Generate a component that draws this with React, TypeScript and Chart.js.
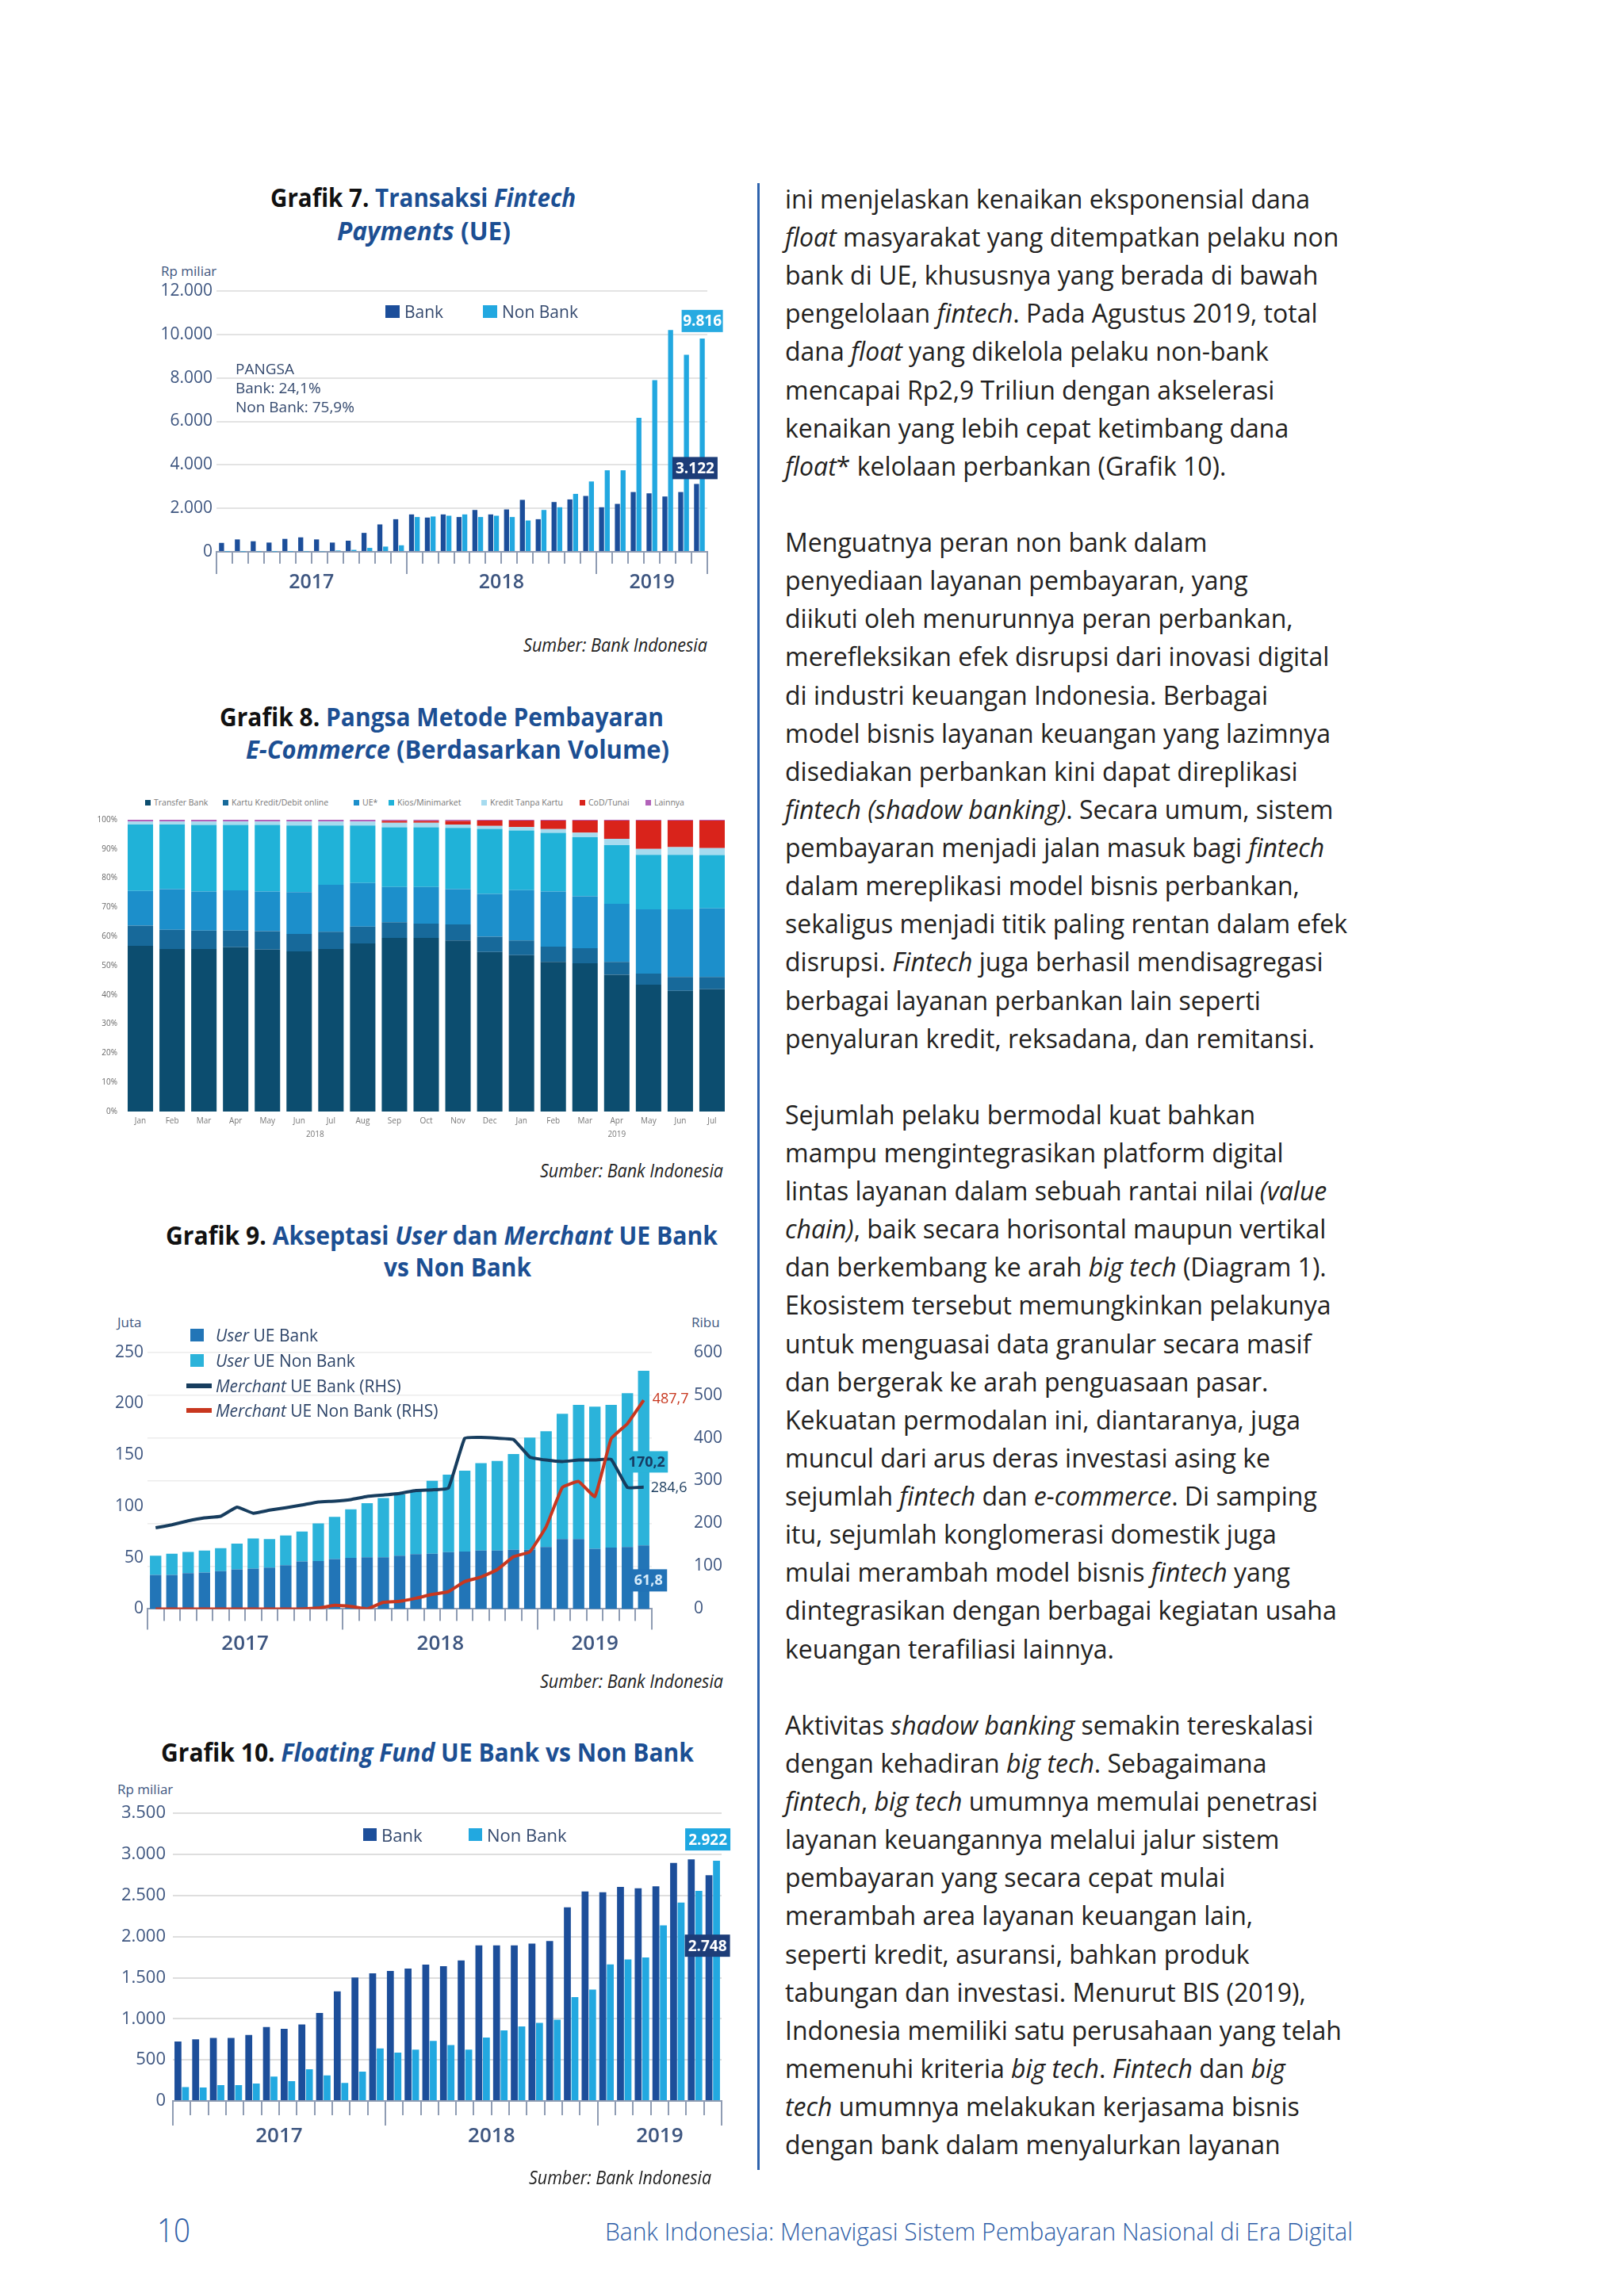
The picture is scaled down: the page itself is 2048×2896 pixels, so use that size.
import React, { useEffect, useLayoutEffect, useRef } from 'react';
import { Chart, registerables } from 'chart.js';

Chart.register(...registerables);

// ================= DATA =================
const months31 = ['Jan 2017','Feb 2017','Mar 2017','Apr 2017','May 2017','Jun 2017','Jul 2017','Aug 2017','Sep 2017','Oct 2017','Nov 2017','Dec 2017','Jan 2018','Feb 2018','Mar 2018','Apr 2018','May 2018','Jun 2018','Jul 2018','Aug 2018','Sep 2018','Oct 2018','Nov 2018','Dec 2018','Jan 2019','Feb 2019','Mar 2019','Apr 2019','May 2019','Jun 2019','Jul 2019'];
const years171819 = ['2017', '2018', '2019'];
const monthsPerYear171819 = [12, 12, 7];

// Grafik 7 – Transaksi Fintech Payments (Rp miliar)
const g7Bank = [410, 570, 485, 425, 595, 665, 570, 425, 510, 870, 1260, 1500, 1720, 1575, 1720, 1600, 1925, 1720, 1950, 2390, 1500, 2290, 2410, 2570, 2050, 2205, 2750, 2690, 2545, 2750, 3122];
const g7NonBank = [15, 15, 20, 15, 15, 20, 25, 60, 90, 180, 240, 300, 1600, 1625, 1660, 1720, 1600, 1660, 1600, 1440, 1925, 2050, 2665, 3235, 3750, 3750, 6160, 7900, 10200, 9060, 9816];
const g7Share = ['PANGSA', 'Bank: 24,1%', 'Non Bank: 75,9%'];

// Grafik 8 – Pangsa Metode Pembayaran E-Commerce (%)
const g8Months = ['Jan','Feb','Mar','Apr','May','Jun','Jul','Aug','Sep','Oct','Nov','Dec','Jan','Feb','Mar','Apr','May','Jun','Jul'];
const g8Years = ['2018', '2019'];
const g8MonthsPerYear = [12, 7];
const g8Series = ['Transfer Bank', 'Kartu Kredit/Debit online', 'UE*', 'Kios/Minimarket', 'Kredit Tanpa Kartu', 'CoD/Tunai', 'Lainnya'];
const g8TransferBank = [56.8, 55.7, 55.7, 56.3, 55.5, 54.9, 55.7, 57.6, 59.5, 59.5, 58.6, 54.7, 53.6, 51.3, 50.8, 46.9, 43.5, 41.4, 41.9];
const g8Kartu = [6.9, 6.6, 6.3, 5.7, 6.3, 6.0, 5.9, 5.8, 5.4, 4.9, 5.5, 5.2, 5.0, 5.2, 5.2, 4.4, 3.8, 4.7, 4.2];
const g8UE = [11.9, 13.9, 13.4, 13.8, 13.6, 14.3, 16.1, 14.9, 12.1, 12.6, 12.1, 14.7, 17.3, 18.9, 17.8, 19.9, 22.0, 23.2, 23.5];
const g8Kios = [22.8, 22.2, 22.8, 22.4, 22.8, 22.8, 20.3, 19.7, 20.4, 20.4, 21.0, 22.3, 20.4, 20.1, 20.2, 20.1, 18.7, 18.7, 18.3];
const g8KTK = [1.0, 1.0, 1.2, 1.2, 1.2, 1.4, 1.4, 1.4, 1.6, 1.6, 1.2, 1.0, 1.2, 1.3, 1.6, 2.2, 2.0, 2.6, 2.4];
const g8CoD = [0, 0, 0, 0, 0, 0, 0, 0, 0.6, 0.6, 1.2, 1.8, 2.2, 2.9, 4.1, 6.2, 9.7, 9.1, 9.4];
const g8Lainnya = [0.6, 0.6, 0.6, 0.6, 0.6, 0.6, 0.6, 0.6, 0.4, 0.4, 0.4, 0.3, 0.3, 0.3, 0.3, 0.3, 0.3, 0.3, 0.3];

// Grafik 9 – Akseptasi User (juta) dan Merchant (ribu)
const g9UserBank = [33.1, 33.1, 34.9, 35.5, 36.7, 38.5, 39.3, 40.2, 42.6, 46.2, 46.7, 48.5, 49.7, 50.3, 50.3, 51.8, 53.3, 53.8, 55.3, 55.9, 56.8, 56.8, 57.7, 57.7, 60.4, 68.0, 68.0, 58.6, 59.8, 60.4, 61.8];
const g9UserNonBank = [18.7, 20.7, 20.7, 21.3, 22.5, 25.1, 29.3, 27.8, 29.0, 29.2, 36.7, 41.1, 47.3, 52.7, 57.7, 59.7, 62.1, 71.1, 75.5, 78.7, 85.2, 87.3, 93.2, 109.2, 112.7, 122.0, 130.8, 138.4, 139.0, 149.7, 170.2];
const g9MerchantBank = [189.6, 196.7, 206, 213, 216.6, 238, 223.7, 230.8, 236.5, 242.9, 250, 252, 255.7, 262.8, 266.3, 270, 277, 278.4, 282.7, 399, 401, 399, 396, 355, 348, 344.5, 348, 348, 349.4, 284, 284.6];
const g9MerchantNonBank = [0, 0, 0, 0, 0, 0, 0, 0, 0, 0, 2, 8.5, 5.7, 0, 15.6, 17.8, 25, 34, 40.5, 64, 74.6, 92, 122, 133.5, 191.8, 284, 298, 262.8, 397.7, 433, 487.7];

// Grafik 10 – Floating Fund (Rp miliar)
const g10Bank = [723, 749, 767, 767, 804, 899, 877, 932, 1071, 1334, 1502, 1553, 1582, 1611, 1659, 1640, 1710, 1893, 1893, 1893, 1915, 1947, 2357, 2550, 2539, 2605, 2587, 2612, 2897, 2941, 2748];
const g10NonBank = [168, 164, 194, 194, 212, 296, 241, 387, 311, 219, 358, 640, 588, 625, 731, 680, 625, 771, 859, 906, 950, 990, 1264, 1355, 1662, 1721, 1746, 2137, 2415, 2557, 2922];

// ================= STYLE =================
const FONT = '"Open Sans", "Noto Sans", "DejaVu Sans", sans-serif';
const BLUE = '#1c4f93';
const TICK = '#3e5680';
const AXIS = '#8f9cb3';
const C_BANK = '#1c4e9a';
const C_NONBANK = '#22a8e0';
const C8 = ['#0c4d6f', '#17699a', '#1c8fcb', '#20b2d8', '#a6dbef', '#d9231b', '#b262b9'];
const C9_BANK = '#2275b7';
const C9_NONBANK = '#2bb3da';
const C9_NAVY = '#173d5e';
const C9_RED = '#c8371f';

const fmtK = (v: number) => Math.round(v).toString().replace(/\B(?=(\d{3})+(?!\d))/g, '.');
const fmtD = (v: number) => v.toFixed(1).replace('.', ',');

// ================= HELPERS =================
function makeBoxPlugin(items: any[]) {
  return {
    id: 'boxLabels',
    afterDatasetsDraw(chart: any) {
      const ctx = chart.ctx;
      items.forEach((b) => {
        const el = chart.getDatasetMeta(b.ds).data[b.idx];
        if (!el) return;
        const cx = el.x + b.dx;
        const cy = el.y + b.dy;
        ctx.save();
        if (b.bg) {
          ctx.fillStyle = b.bg;
          ctx.fillRect(cx - b.w / 2, cy - b.h / 2, b.w, b.h);
        }
        ctx.font = b.font;
        ctx.fillStyle = b.color;
        ctx.textBaseline = 'middle';
        ctx.textAlign = b.align || 'center';
        ctx.fillText(b.text, cx, cy + 1);
        ctx.restore();
      });
    },
  };
}

function monthAxis(o: any) {
  return {
    type: 'category',
    position: 'bottom',
    weight: 0,
    offset: true,
    ticks: o.labels
      ? { display: true, autoSkip: false, maxRotation: 0, minRotation: 0, padding: o.pad, color: o.color, font: o.font }
      : { display: false },
    grid: o.tick > 0
      ? { display: true, offset: true, drawOnChartArea: false, drawTicks: true, tickLength: o.tick, lineWidth: 2, color: AXIS }
      : { display: false, drawTicks: false, tickLength: 0 },
    border: { display: !!o.border, color: AXIS, width: 2 },
    afterFit: (s: any) => { s.height = o.h; },
  };
}

function yearAxis(years: string[], counts: number[], o: any) {
  const bounds = [0];
  counts.forEach((c) => bounds.push(bounds[bounds.length - 1] + c));
  const centers = counts.map((c, i) => bounds[i] + c / 2);
  const total = bounds[bounds.length - 1];
  return {
    type: 'linear',
    position: 'bottom',
    weight: 1,
    offset: false,
    min: 0,
    max: total,
    bounds: 'data',
    afterBuildTicks: (s: any) => {
      const vals = o.tick > 0 ? [...bounds, ...centers] : [...centers];
      s.ticks = vals.sort((a, b) => a - b).map((v) => ({ value: v }));
    },
    ticks: {
      autoSkip: false, maxRotation: 0, minRotation: 0, padding: o.pad, color: o.color, font: o.font,
      callback: (v: number) => { const i = centers.indexOf(v); return i >= 0 ? years[i] : ''; },
    },
    grid: o.tick > 0
      ? { display: true, offset: false, drawOnChartArea: false, drawTicks: true, tickLength: o.tick, lineWidth: 2,
          color: (c: any) => (c.tick && bounds.includes(c.tick.value) ? AXIS : 'rgba(0,0,0,0)') }
      : { display: false, offset: false, drawTicks: false, tickLength: 0 },
    border: { display: false },
    afterFit: (s: any) => { s.height = o.h; },
  };
}

function ChartCanvas({ x, y, w, h, make }: { x: number; y: number; w: number; h: number; make: () => any }) {
  const ref = useRef<HTMLCanvasElement>(null);
  useEffect(() => {
    const c = new Chart(ref.current as HTMLCanvasElement, make());
    return () => c.destroy();
  }, []);
  return <canvas ref={ref} width={w} height={h} style={{ position: 'absolute', left: x, top: y, width: w, height: h }} />;
}

function T({ x, y, size, color = '#222', weight = 400, italic = false, w, family = FONT, children }: any) {
  const ref = useRef<HTMLDivElement>(null);
  useLayoutEffect(() => {
    if (!w) return;
    const el = ref.current as HTMLDivElement;
    const fit = () => {
      el.style.transform = 'none';
      const nw = el.getBoundingClientRect().width;
      if (nw > 0) el.style.transform = `scaleX(${w / nw})`;
    };
    fit();
    const f: any = (document as any).fonts;
    if (f && f.ready) f.ready.then(fit);
  }, [w]);
  const lh = Math.round(size * 1.3);
  return (
    <div
      ref={ref}
      style={{
        position: 'absolute', left: x, top: y - lh / 2, fontSize: size, lineHeight: lh + 'px', color,
        fontWeight: weight, fontStyle: italic ? 'italic' : 'normal', fontFamily: family,
        whiteSpace: 'nowrap', transformOrigin: '0 50%',
      }}
    >
      {children}
    </div>
  );
}

function Sq({ x, y, w, h, color }: any) {
  return <div style={{ position: 'absolute', left: x, top: y - h / 2, width: w, height: h, background: color }} />;
}

// ================= CHART CONFIGS =================
const tickFont = (size: number, weight: any = 400) => ({ family: FONT, size, weight });

const make7 = () => ({
  type: 'bar',
  data: {
    labels: months31,
    datasets: [
      { label: 'Bank', data: g7Bank, backgroundColor: C_BANK, xAxisID: 'x', yAxisID: 'y', categoryPercentage: 0.72, barPercentage: 0.88 },
      { label: 'Non Bank', data: g7NonBank, backgroundColor: C_NONBANK, xAxisID: 'x', yAxisID: 'y', categoryPercentage: 0.72, barPercentage: 0.88 },
    ],
  },
  options: {
    responsive: false, animation: false, devicePixelRatio: 1, events: [],
    layout: { padding: { top: 37, right: 23, left: 0, bottom: 0 } },
    plugins: { legend: { display: false }, tooltip: { enabled: false } },
    scales: {
      x: monthAxis({ tick: 15, h: 15, border: true }),
      year: yearAxis(years171819, monthsPerYear171819, { tick: 13, h: 59, pad: -4, color: TICK, font: tickFont(25, 600) }),
      y: {
        min: 0, max: 12000,
        border: { display: false },
        grid: { drawTicks: false, lineWidth: 2, color: (c: any) => (c.tick && c.tick.value === 0 ? 'rgba(0,0,0,0)' : '#e3e3e3') },
        ticks: { stepSize: 2000, padding: 5, color: TICK, font: tickFont(21), callback: (v: number) => fmtK(v) },
        afterFit: (s: any) => { s.width = 88; },
      },
    },
  },
  plugins: [
    makeBoxPlugin([
      { ds: 1, idx: 30, dx: 0, dy: -22, w: 52, h: 28, bg: '#27aae1', color: '#ffffff', font: `700 19px ${FONT}`, text: fmtK(g7NonBank[30]) },
      { ds: 0, idx: 30, dx: -2, dy: -20, w: 57, h: 28, bg: '#1d3d78', color: '#ffffff', font: `700 19px ${FONT}`, text: fmtK(g7Bank[30]) },
    ]),
  ],
});

const g8Data = [g8TransferBank, g8Kartu, g8UE, g8Kios, g8KTK, g8CoD, g8Lainnya];
const make8 = () => ({
  type: 'bar',
  data: {
    labels: g8Months,
    datasets: g8Series.map((name, i) => ({
      label: name, data: g8Data[i], backgroundColor: C8[i], xAxisID: 'x', yAxisID: 'y', stack: 's',
      barPercentage: 0.8, categoryPercentage: 1,
    })),
  },
  options: {
    responsive: false, animation: false, devicePixelRatio: 1, events: [],
    layout: { padding: { top: 24, right: 12, left: 0, bottom: 0 } },
    plugins: { legend: { display: false }, tooltip: { enabled: false } },
    scales: {
      x: { ...monthAxis({ tick: 0, h: 20, labels: true, pad: 6, color: '#777', font: tickFont(10) }), stacked: true },
      year: yearAxis(g8Years, g8MonthsPerYear, { tick: 0, h: 22, pad: 3, color: '#777', font: tickFont(10) }),
      y: {
        stacked: true, min: 0, max: 100,
        border: { display: false },
        grid: { display: false, drawTicks: false },
        ticks: { stepSize: 10, padding: 9, color: '#666', font: tickFont(10), callback: (v: number) => v + '%' },
        afterFit: (s: any) => { s.width = 52; },
      },
    },
  },
});

const make9 = () => ({
  type: 'bar',
  data: {
    labels: months31,
    datasets: [
      { type: 'line', label: 'Merchant UE Non Bank (RHS)', data: g9MerchantNonBank, borderColor: C9_RED, backgroundColor: C9_RED, borderWidth: 4, pointRadius: 0, tension: 0.1, xAxisID: 'x', yAxisID: 'yR', order: 0 },
      { type: 'line', label: 'Merchant UE Bank (RHS)', data: g9MerchantBank, borderColor: C9_NAVY, backgroundColor: C9_NAVY, borderWidth: 4, pointRadius: 0, tension: 0.1, xAxisID: 'x', yAxisID: 'yR', order: 1 },
      { type: 'bar', label: 'User UE Bank', data: g9UserBank, backgroundColor: C9_BANK, xAxisID: 'x', yAxisID: 'y', stack: 'u', order: 2, barPercentage: 0.7, categoryPercentage: 1 },
      { type: 'bar', label: 'User UE Non Bank', data: g9UserNonBank, backgroundColor: C9_NONBANK, xAxisID: 'x', yAxisID: 'y', stack: 'u', order: 2, barPercentage: 0.7, categoryPercentage: 1 },
    ],
  },
  options: {
    responsive: false, animation: false, devicePixelRatio: 1, events: [],
    layout: { padding: { top: 55, right: 8, left: 0, bottom: 0 } },
    plugins: { legend: { display: false }, tooltip: { enabled: false } },
    scales: {
      x: monthAxis({ tick: 15, h: 15, border: true }),
      year: yearAxis(years171819, monthsPerYear171819, { tick: 11, h: 45, pad: 3, color: TICK, font: tickFont(26, 600) }),
      y: {
        stacked: true, min: 0, max: 250, position: 'left',
        border: { display: false },
        grid: { display: false, drawTicks: false },
        ticks: { stepSize: 50, padding: 5, color: TICK, font: tickFont(21) },
        afterFit: (s: any) => { s.width = 56; },
      },
      yR: {
        min: 0, max: 600, position: 'right',
        border: { display: false },
        grid: { drawTicks: false, lineWidth: 1.5, color: (c: any) => (c.tick && c.tick.value === 0 ? 'rgba(0,0,0,0)' : '#ececec') },
        ticks: { stepSize: 100, padding: 53, color: TICK, font: tickFont(21) },
        afterFit: (s: any) => { s.width = 100; },
      },
    },
  },
  plugins: [
    makeBoxPlugin([
      { ds: 0, idx: 30, dx: 11, dy: -2, align: 'left', color: C9_RED, font: `400 18px ${FONT}`, text: fmtD(g9MerchantNonBank[30]) },
      { ds: 1, idx: 30, dx: 9, dy: 0, align: 'left', color: '#1a3c5e', font: `400 18px ${FONT}`, text: fmtD(g9MerchantBank[30]) },
      { ds: 3, idx: 30, dx: 4, dy: 115, w: 53, h: 27, bg: '#2bb4d9', color: '#173c63', font: `700 18px ${FONT}`, text: fmtD(g9UserNonBank[30]) },
      { ds: 2, idx: 30, dx: 6, dy: 44, w: 47, h: 28, bg: '#2172b6', color: '#d7ecfa', font: `700 18px ${FONT}`, text: fmtD(g9UserBank[30]) },
    ]),
  ],
});

const make10 = () => ({
  type: 'bar',
  data: {
    labels: months31,
    datasets: [
      { label: 'Bank', data: g10Bank, backgroundColor: C_BANK, xAxisID: 'x', yAxisID: 'y', categoryPercentage: 0.85, barPercentage: 0.92 },
      { label: 'Non Bank', data: g10NonBank, backgroundColor: C_NONBANK, xAxisID: 'x', yAxisID: 'y', categoryPercentage: 0.85, barPercentage: 0.92 },
    ],
  },
  options: {
    responsive: false, animation: false, devicePixelRatio: 1, events: [],
    layout: { padding: { top: 21, right: 20, left: 0, bottom: 0 } },
    plugins: { legend: { display: false }, tooltip: { enabled: false } },
    scales: {
      x: monthAxis({ tick: 18, h: 18, border: true }),
      year: yearAxis(years171819, monthsPerYear171819, { tick: 13, h: 67, pad: -2, color: TICK, font: tickFont(26, 600) }),
      y: {
        min: 0, max: 3500,
        border: { display: false },
        grid: { drawTicks: false, lineWidth: 2, color: (c: any) => (c.tick && c.tick.value === 0 ? 'rgba(0,0,0,0)' : '#dedede') },
        ticks: { stepSize: 500, padding: 9, color: TICK, font: tickFont(22), callback: (v: number) => fmtK(v) },
        afterFit: (s: any) => { s.width = 88; },
      },
    },
  },
  plugins: [
    makeBoxPlugin([
      { ds: 1, idx: 30, dx: -11, dy: -27, w: 57, h: 28, bg: '#1ea7e1', color: '#ffffff', font: `700 19px ${FONT}`, text: fmtK(g10NonBank[30]) },
      { ds: 0, idx: 30, dx: -2, dy: 89, w: 57, h: 28, bg: '#1d3d78', color: '#ffffff', font: `700 19px ${FONT}`, text: fmtK(g10Bank[30]) },
    ]),
  ],
});

// ================= BODY TEXT =================
const bodyLines: any[] = [
  <>ini menjelaskan kenaikan eksponensial dana</>,
  <><i>float</i> masyarakat yang ditempatkan pelaku non</>,
  <>bank di UE, khususnya yang berada di bawah</>,
  <>pengelolaan <i>fintech</i>. Pada Agustus 2019, total</>,
  <>dana <i>float</i> yang dikelola pelaku non-bank</>,
  <>mencapai Rp2,9 Triliun dengan akselerasi</>,
  <>kenaikan yang lebih cepat ketimbang dana</>,
  <><i>float</i>* kelolaan perbankan (Grafik 10).</>,
  null,
  <>Menguatnya peran non bank dalam</>,
  <>penyediaan layanan pembayaran, yang</>,
  <>diikuti oleh menurunnya peran perbankan,</>,
  <>merefleksikan efek disrupsi dari inovasi digital</>,
  <>di industri keuangan Indonesia. Berbagai</>,
  <>model bisnis layanan keuangan yang lazimnya</>,
  <>disediakan perbankan kini dapat direplikasi</>,
  <><i>fintech (shadow banking)</i>. Secara umum, sistem</>,
  <>pembayaran menjadi jalan masuk bagi <i>fintech</i></>,
  <>dalam mereplikasi model bisnis perbankan,</>,
  <>sekaligus menjadi titik paling rentan dalam efek</>,
  <>disrupsi. <i>Fintech</i> juga berhasil mendisagregasi</>,
  <>berbagai layanan perbankan lain seperti</>,
  <>penyaluran kredit, reksadana, dan remitansi.</>,
  null,
  <>Sejumlah pelaku bermodal kuat bahkan</>,
  <>mampu mengintegrasikan platform digital</>,
  <>lintas layanan dalam sebuah rantai nilai <i>(value</i></>,
  <><i>chain)</i>, baik secara horisontal maupun vertikal</>,
  <>dan berkembang ke arah <i>big tech</i> (Diagram 1).</>,
  <>Ekosistem tersebut memungkinkan pelakunya</>,
  <>untuk menguasai data granular secara masif</>,
  <>dan bergerak ke arah penguasaan pasar.</>,
  <>Kekuatan permodalan ini, diantaranya, juga</>,
  <>muncul dari arus deras investasi asing ke</>,
  <>sejumlah <i>fintech</i> dan <i>e-commerce</i>. Di samping</>,
  <>itu, sejumlah konglomerasi domestik juga</>,
  <>mulai merambah model bisnis <i>fintech</i> yang</>,
  <>dintegrasikan dengan berbagai kegiatan usaha</>,
  <>keuangan terafiliasi lainnya.</>,
  null,
  <>Aktivitas <i>shadow banking</i> semakin tereskalasi</>,
  <>dengan kehadiran <i>big tech</i>. Sebagaimana</>,
  <><i>fintech</i>, <i>big tech</i> umumnya memulai penetrasi</>,
  <>layanan keuangannya melalui jalur sistem</>,
  <>pembayaran yang secara cepat mulai</>,
  <>merambah area layanan keuangan lain,</>,
  <>seperti kredit, asuransi, bahkan produk</>,
  <>tabungan dan investasi. Menurut BIS (2019),</>,
  <>Indonesia memiliki satu perusahaan yang telah</>,
  <>memenuhi kriteria <i>big tech</i>. <i>Fintech</i> dan <i>big</i></>,
  <><i>tech</i> umumnya melakukan kerjasama bisnis</>,
  <>dengan bank dalam menyalurkan layanan</>,
];

// ================= APP =================
export default function App() {
  const lab = { size: 21, color: '#34496e' };
  return (
    <div style={{ position: 'absolute', left: 0, top: 0, width: 2048, height: 2896, background: '#ffffff', overflow: 'hidden', fontFamily: FONT }}>
      {/* ---------- Grafik 7 ---------- */}
      <T x={341} y={248} size={33} weight={700} w={385}>
        <span style={{ color: '#111' }}>Grafik 7. </span>
        <span style={{ color: BLUE }}>Transaksi <i>Fintech</i></span>
      </T>
      <T x={425} y={290} size={33} weight={700} w={219} color={BLUE}>
        <i>Payments</i> (UE)
      </T>
      <T x={203} y={342} size={17} color={TICK}>Rp miliar</T>
      <ChartCanvas x={185} y={330} w={730} h={440} make={make7} />
      <Sq x={486} y={393} w={18} h={16} color={C_BANK} />
      <T x={510} y={393} size={lab.size} color={lab.color}>Bank</T>
      <Sq x={609} y={393} w={18} h={16} color={C_NONBANK} />
      <T x={633} y={393} size={lab.size} color={lab.color}>Non Bank</T>
      {g7Share.map((s, i) => (
        <T key={i} x={297} y={465 + i * 24} size={19} color={lab.color}>{s}</T>
      ))}
      <T x={660} y={813} size={23} italic w={232} color="#222">Sumber: Bank Indonesia</T>

      {/* ---------- Grafik 8 ---------- */}
      <T x={277} y={903} size={33} weight={700} w={560}>
        <span style={{ color: '#111' }}>Grafik 8. </span>
        <span style={{ color: BLUE }}>Pangsa Metode Pembayaran</span>
      </T>
      <T x={310} y={944} size={33} weight={700} w={534} color={BLUE}>
        <i>E-Commerce</i> (Berdasarkan Volume)
      </T>
      {g8Series.map((s, i) => {
        const xs = [183, 281, 446, 490, 607, 731, 814];
        return (
          <React.Fragment key={i}>
            <Sq x={xs[i]} y={1012} w={7} h={7} color={C8[i]} />
            <T x={xs[i] + 11} y={1012} size={10.5} color="#777">{s}</T>
          </React.Fragment>
        );
      })}
      <ChartCanvas x={105} y={1010} w={825} h={434} make={make8} />
      <T x={681} y={1476} size={23} italic w={231} color="#222">Sumber: Bank Indonesia</T>

      {/* ---------- Grafik 9 ---------- */}
      <T x={209} y={1557} size={33} weight={700} w={696}>
        <span style={{ color: '#111' }}>Grafik 9. </span>
        <span style={{ color: BLUE }}>Akseptasi <i>User</i> dan <i>Merchant</i> UE Bank</span>
      </T>
      <T x={484} y={1597} size={33} weight={700} w={186} color={BLUE}>vs Non Bank</T>
      <T x={148} y={1668} size={17} color={TICK}>Juta</T>
      <T x={872} y={1668} size={17} color={TICK}>Ribu</T>
      <ChartCanvas x={130} y={1640} w={800} h={455} make={make9} />
      <Sq x={240} y={1684} w={17} h={16} color={C9_BANK} />
      <T x={272} y={1684} size={21} color="#2d4468"><i>User</i> UE Bank</T>
      <Sq x={240} y={1716} w={17} h={16} color={C9_NONBANK} />
      <T x={272} y={1716} size={21} color="#2d4468"><i>User</i> UE Non Bank</T>
      <Sq x={235} y={1748} w={32} h={6} color={C9_NAVY} />
      <T x={272} y={1748} size={21} color="#2d4468"><i>Merchant</i> UE Bank (RHS)</T>
      <Sq x={235} y={1779} w={32} h={6} color={C9_RED} />
      <T x={272} y={1779} size={21} color="#2d4468"><i>Merchant</i> UE Non Bank (RHS)</T>
      <T x={681} y={2120} size={23} italic w={231} color="#222">Sumber: Bank Indonesia</T>

      {/* ---------- Grafik 10 ---------- */}
      <T x={203} y={2209} size={33} weight={700} w={672}>
        <span style={{ color: '#111' }}>Grafik 10. </span>
        <span style={{ color: BLUE }}><i>Floating Fund</i> UE Bank vs Non Bank</span>
      </T>
      <T x={148} y={2257} size={17} color={TICK}>Rp miliar</T>
      <ChartCanvas x={130} y={2265} w={800} h={470} make={make10} />
      <Sq x={458} y={2314} w={17} h={16} color={C_BANK} />
      <T x={481} y={2314} size={22} color={lab.color}>Bank</T>
      <Sq x={591} y={2314} w={17} h={16} color={C_NONBANK} />
      <T x={614} y={2314} size={22} color={lab.color}>Non Bank</T>
      <T x={667} y={2746} size={23} italic w={230} color="#222">Sumber: Bank Indonesia</T>

      {/* ---------- Divider ---------- */}
      <div style={{ position: 'absolute', left: 955, top: 231, width: 3, height: 2506, background: '#2e63ad' }} />

      {/* ---------- Body text ---------- */}
      {bodyLines.map((l, i) => (
        <div
          key={i}
          style={{
            position: 'absolute', left: 990, top: 227 + i * 48.12, height: 48, lineHeight: '48px',
            fontSize: 32, color: '#231f20', whiteSpace: 'nowrap', fontFamily: FONT,
          }}
        >
          {l || '\u00a0'}
        </div>
      ))}

      {/* ---------- Footer ---------- */}
      <T x={198} y={2811} size={42} weight={300} w={42} color="#2d5da6">10</T>
      <T x={763} y={2814} size={31} weight={300} w={943} color="#2d5da6">
        Bank Indonesia: Menavigasi Sistem Pembayaran Nasional di Era Digital
      </T>
    </div>
  );
}
